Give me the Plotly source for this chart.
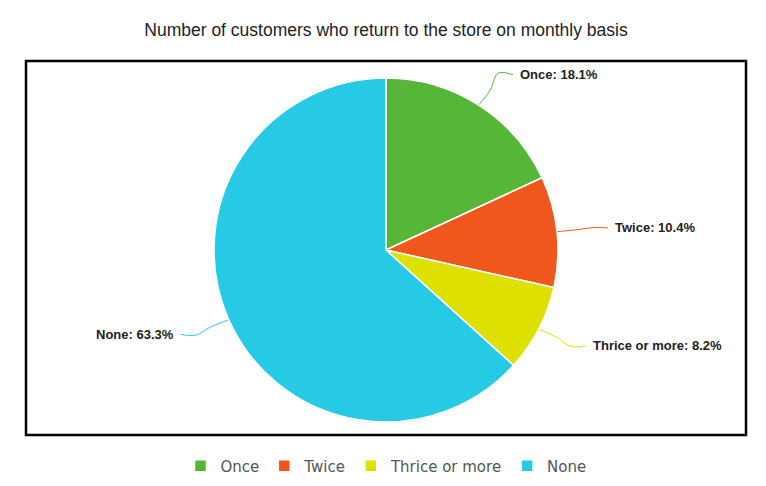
import math
import plotly.graph_objects as go

labels = ['Once', 'Twice', 'Thrice or more', 'None']
values = [18.1, 10.4, 8.2, 63.3]
colors = ['#55b637', '#ef571d', '#dee000', '#26cae5']

W, H = 766, 486
OFF = 8  # page body margin: axis units below are page pixels
cx, cy, r = 386, 250, 172


def px(x):
    return (x - OFF) / W


def py(y):
    return 1 - (y - OFF) / H


fig = go.Figure()

fig.add_trace(go.Pie(
    labels=labels, values=values, sort=False, direction='clockwise', rotation=0,
    marker=dict(colors=colors, line=dict(color='white', width=1.5)),
    textinfo='none', hoverinfo='label+percent',
    domain=dict(x=[px(cx - r), px(cx + r)], y=[py(cy + r), py(cy - r)]),
))

# leader lines and labels, positioned from slice mid-angles
total = sum(values)
cum = 0
for lab, val, col in zip(labels, values, colors):
    mid = (cum + val / 2) / total * 2 * math.pi
    cum += val
    dx, dy = math.sin(mid), -math.cos(mid)
    side = 1 if dx >= 0 else -1
    x0, y0 = cx + r * dx, cy + r * dy
    x1, y1 = cx + (r + 36) * dx, cy + (r + 36) * dy
    x2 = x1 + side * 15
    fig.add_trace(go.Scatter(
        x=[x0, (x0 + x1) / 2 + side * 2, x1, x2], y=[y0, (y0 + y1) / 2, y1 + (y1 - y0) * 0.05, y1],
        mode='lines', line=dict(color=col, width=1, shape='spline'),
        showlegend=False, hoverinfo='skip'))
    fig.add_annotation(
        x=x2 + side * 5, y=y1, text='<b>%s: %.1f%%</b>' % (lab, val), showarrow=False,
        xanchor='left' if side > 0 else 'right', yanchor='middle',
        font=dict(family='Liberation Sans, Arial', size=13, color='#222222'))

fig.add_shape(type='rect', xref='x', yref='y', x0=26, y0=61, x1=746, y1=435,
              line=dict(color='black', width=2.5), layer='below')

fig.update_layout(
    width=W, height=H,
    margin=dict(l=0, r=0, t=0, b=0),
    paper_bgcolor='white', plot_bgcolor='rgba(0,0,0,0)',
    title=dict(text='Number of customers who return to the store on monthly basis',
               x=px(386), xanchor='center', y=py(30), yanchor='middle',
               font=dict(family='Liberation Sans, Arial', size=17.5, color='#222222')),
    xaxis=dict(range=[OFF, OFF + W], visible=False, fixedrange=True),
    yaxis=dict(range=[OFF + H, OFF], visible=False, fixedrange=True),
    legend=dict(orientation='h', x=px(386), xanchor='center', y=py(466), yanchor='middle',
                font=dict(family='DejaVu Sans, Verdana', size=15, color='#555555'),
                itemwidth=30, tracegroupgap=0),
)

fig.write_html('out.html')
